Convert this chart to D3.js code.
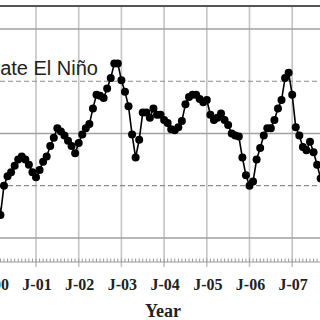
<!DOCTYPE html>
<html><head><meta charset="utf-8">
<script src="https://cdn.jsdelivr.net/npm/d3@7"></script>
<style>html,body{margin:0;padding:0;background:#fff;}svg{display:block;}</style>
</head><body>
<svg id="c" width="320" height="320"></svg>
<script>
// Month index (0 = Jan 2000)
const months = [1,2,3,4,5,6,7,8,9,10,11,12,13,14,15,16,17,18,19,20,21,22,23,24,25,26,27,28,29,30,31,32,33,34,35,36,37,38,39,40,41,42,43,44,45,46,47,48,49,50,51,52,53,54,55,56,57,58,59,60,61,62,63,64,65,66,67,68,69,70,71,72,73,74,75,76,77,78,79,80,81,82,83,84,85,86,87,88,89,90,91,92];
const values = [0.27,0.22,0.50,0.59,0.63,0.69,0.75,0.78,0.75,0.70,0.63,0.58,0.65,0.73,0.78,0.88,0.96,1.05,1.02,0.98,0.93,0.88,0.81,0.91,0.99,1.05,1.09,1.24,1.37,1.36,1.34,1.43,1.53,1.67,1.67,1.51,1.40,1.26,0.99,0.77,0.94,1.20,1.20,1.15,1.24,1.18,1.18,1.13,1.10,1.04,1.03,1.06,1.12,1.28,1.35,1.37,1.37,1.33,1.30,1.32,1.18,1.13,1.15,1.19,1.13,1.08,1.00,0.98,0.97,0.77,0.60,0.50,0.54,0.75,0.86,0.98,1.05,1.05,1.13,1.24,1.32,1.53,1.58,1.37,1.06,0.98,0.87,0.84,0.92,0.82,0.70,0.57];
const yearTicks = [2000,2001,2002,2003,2004,2005,2006,2007];
const yearLabels = ["J-00","J-01","J-02","J-03","J-04","J-05","J-06","J-07"];
const solidLevels = [0,1,2];
const dashedLevels = [0.5,1.5];
const annotation = "Moderate El Niño";
const xTitle = "Year";

const svg = d3.select("#c");
const x = d3.scaleLinear().domain([2000, 2008]).range([-6.7, 334.9]);
const y = d3.scaleLinear().domain([-0.23, 2.22]).range([262, 6]);

// vertical gridlines (major, extend below axis as ticks)
svg.append("g").selectAll("line").data(yearTicks).join("line")
  .attr("x1", d => x(d)).attr("x2", d => x(d))
  .attr("y1", y(2.22)).attr("y2", 267)
  .attr("stroke", "#c4c4c4").attr("stroke-width", 1.6);

// horizontal solid lines
svg.append("g").selectAll("line").data(solidLevels).join("line")
  .attr("x1", 0).attr("x2", 320)
  .attr("y1", d => y(d)).attr("y2", d => y(d))
  .attr("stroke", "#a0a0a0").attr("stroke-width", 1.5);

// dashed threshold lines
svg.append("g").selectAll("line").data(dashedLevels).join("line")
  .attr("x1", 0).attr("x2", 320)
  .attr("y1", d => y(d)).attr("y2", d => y(d))
  .attr("stroke", "#8a8a8a").attr("stroke-width", 1.2)
  .attr("stroke-dasharray", "5,3");

// top border
svg.append("line").attr("x1", 0).attr("x2", 320)
  .attr("y1", y(2.22)).attr("y2", y(2.22))
  .attr("stroke", "#555").attr("stroke-width", 2);

// bottom axis with monthly minor ticks
const minor = d3.range(2000, 2009, 1/12);
const ax = svg.append("g").attr("transform", "translate(0,262)");
ax.append("line").attr("x1", 0).attr("x2", 320).attr("stroke", "#999").attr("stroke-width", 1);
ax.selectAll("line.m").data(minor).join("line").attr("class", "m")
  .attr("x1", d => x(d)).attr("x2", d => x(d)).attr("y1", -3.5).attr("y2", 0)
  .attr("stroke", "#999").attr("stroke-width", 1);
ax.selectAll("text").data(yearTicks).join("text")
  .attr("x", (d) => x(d) + 1).attr("y", 28)
  .attr("text-anchor", "middle")
  .attr("font-family", "'Liberation Serif','Times New Roman',serif")
  .attr("font-weight", "bold").attr("font-size", 16).attr("fill", "#222")
  .text((d, i) => yearLabels[i]);

// axis title
svg.append("text").attr("x", 163).attr("y", 317).attr("text-anchor", "middle")
  .attr("font-family", "'Liberation Serif','Times New Roman',serif")
  .attr("font-weight", "bold").attr("font-size", 18).attr("fill", "#222").text(xTitle);

// annotation
svg.append("text").attr("x", 98).attr("y", 75).attr("text-anchor", "end")
  .attr("font-family", "'Liberation Sans',Arial,sans-serif")
  .attr("font-size", 20).attr("fill", "#222").text(annotation);

// series
const data = months.map((m, i) => ({t: 2000 + m / 12, v: values[i]}));
const line = d3.line().x(d => x(d.t)).y(d => y(d.v));
svg.append("path").datum(data).attr("d", line)
  .attr("fill", "none").attr("stroke", "#000").attr("stroke-width", 1.6);
svg.append("g").selectAll("circle").data(data).join("circle")
  .attr("cx", d => x(d.t)).attr("cy", d => y(d.v)).attr("r", 4)
  .attr("fill", "#000");
</script>
</body></html>
